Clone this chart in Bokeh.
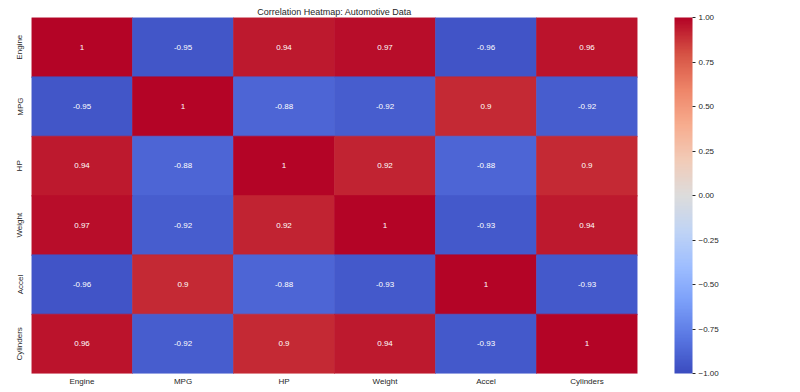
import numpy as np
from bokeh.plotting import figure
from bokeh.models import (ColumnDataSource, LinearColorMapper, ColorBar, FixedTicker,
                          CustomJSTickFormatter, FactorRange)
from bokeh.transform import transform
from bokeh.embed import file_html
from bokeh.resources import INLINE

labels = ["Engine", "MPG", "HP", "Weight", "Accel", "Cylinders"]
corr_engine = [1, -0.95, 0.94, 0.97, -0.96, 0.96]
corr_mpg = [-0.95, 1, -0.88, -0.92, 0.9, -0.92]
corr_hp = [0.94, -0.88, 1, 0.92, -0.88, 0.9]
corr_weight = [0.97, -0.92, 0.92, 1, -0.93, 0.94]
corr_accel = [-0.96, 0.9, -0.88, -0.93, 1, -0.93]
corr_cylinders = [0.96, -0.92, 0.9, 0.94, -0.93, 1]
rows = [corr_engine, corr_mpg, corr_hp, corr_weight, corr_accel, corr_cylinders]
cbar_ticks = [-1.0, -0.75, -0.5, -0.25, 0.0, 0.25, 0.5, 0.75, 1.0]

# coolwarm colormap anchors -> 256-step palette
anchors = ['#3b4cc0', '#5977e3', '#7b9ff9', '#9ebeff', '#c0d4f5', '#dddcdc',
           '#f2cbb7', '#f7ac8e', '#ee8468', '#d65244', '#b40426']
arr = np.array([[int(c[i:i + 2], 16) for i in (1, 3, 5)] for c in anchors], dtype=float)
pos = np.linspace(0, 1, len(anchors))
t = np.linspace(0, 1, 256)
palette = ['#%02x%02x%02x' % tuple(int(round(np.interp(v, pos, arr[:, k]))) for k in range(3)) for v in t]

xs, ys, vals, txt = [], [], [], []
for r, row in zip(labels, rows):
    for c, v in zip(labels, row):
        xs.append(c)
        ys.append(r)
        vals.append(v)
        txt.append(format(v, ".2g"))
src = ColumnDataSource(dict(x=xs, y=ys, v=vals, t=txt))

mapper = LinearColorMapper(palette=palette, low=-1, high=1)
FONT = "Liberation Sans"

p = figure(width=800, height=392, output_backend="svg", toolbar_location=None,
           x_range=FactorRange(factors=labels), y_range=FactorRange(factors=list(reversed(labels))),
           frame_width=606, frame_height=356,
           min_border_left=31, min_border_bottom=19, min_border_top=17, min_border_right=0)
p.title.text = "Correlation Heatmap: Automotive Data"
p.title.align = "center"
p.title.text_font = FONT
p.title.text_font_size = "9px"
p.title.text_font_style = "normal"
p.title.text_color = "#262626"
p.title.standoff = 2
p.title.offset = 0

p.rect(x="x", y="y", width=1, height=1, source=src, dilate=True,
       fill_color=transform("v", mapper), line_color=transform("v", mapper), line_width=0.6)
p.text(x="x", y="y", text="t", source=src, text_color="white", text_font_size="8px",
       text_font={"value": FONT}, text_align="center", text_baseline="middle")

p.grid.visible = False
p.outline_line_color = None
for ax in (p.xaxis[0], p.yaxis[0]):
    ax.axis_line_color = None
    ax.major_tick_line_color = None
    ax.minor_tick_line_color = None
    ax.major_tick_out = 0
    ax.major_tick_in = 0
    ax.minor_tick_out = 0
    ax.minor_tick_in = 0
    ax.major_label_text_font = FONT
    ax.major_label_text_font_size = "8px"
    ax.major_label_text_color = "#262626"
p.xaxis.major_label_standoff = 3
p.yaxis.major_label_standoff = 7
p.yaxis.major_label_orientation = "vertical"

cb = ColorBar(color_mapper=mapper, width=18, height=356, location=(37, 0),
              ticker=FixedTicker(ticks=cbar_ticks),
              formatter=CustomJSTickFormatter(code="return (tick < 0 ? '\u2212' : '') + Math.abs(tick).toFixed(2);"),
              major_label_text_font=FONT, major_label_text_font_size="8px",
              major_label_text_color="#262626", major_tick_in=0, major_tick_out=3,
              major_tick_line_color="#262626", bar_line_color=None, border_line_color=None,
              background_fill_color=None, padding=0, label_standoff=3)
p.add_layout(cb, "right")

open("out.html", "w").write(file_html(p, INLINE))
